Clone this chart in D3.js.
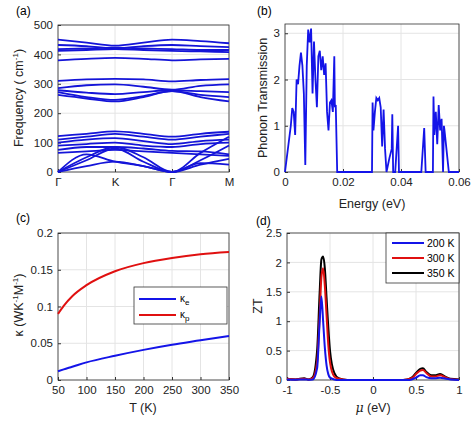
<!DOCTYPE html><html><head><meta charset="utf-8"><script src="https://d3js.org/d3.v7.min.js"></script>
<style>body{margin:0;background:#fff}text{font-family:"Liberation Sans",Arial,sans-serif;}</style></head><body>
<svg id="s" width="474" height="426"></svg>
<script>
// ---- data ----
const kPath = [0,0.5,1,1.5,2,2.5,3];
const kLabels = ["Γ","K","Γ","M"];
const bands = [
[450,440,430,440,450,445,438],[432,428,420,428,432,428,425],[418,420,423,420,418,415,415],[412,415,418,415,412,410,408],[380,385,388,385,380,383,385],
[310,315,317,315,308,313,316],[285,295,298,290,280,293,298],[278,270,265,272,278,275,272],[272,255,245,258,275,262,255],[262,250,240,255,275,255,240],
[122,130,138,130,120,130,137],[110,120,130,120,110,120,130],[100,110,115,105,95,105,110],[90,95,100,90,85,95,100],[75,85,85,80,72,70,60],[65,70,75,70,65,60,55],
[0,50,85,50,0,65,120],[0,40,80,35,0,40,90],[0,20,35,20,0,25,45],[0,60,35,20,0,30,25]];
const transE = [0,0.002,0.0025,0.003,0.0035,0.004,0.0045,0.005,0.0055,0.006,0.0065,0.007,0.0075,0.008,0.0085,0.009,0.0095,0.01,0.0105,0.011,0.0115,0.012,0.0125,0.013,0.0135,0.014,0.0145,0.015,0.0155,0.016,0.0165,0.017,0.0172,0.0175,0.018,0.03,0.0302,0.0305,0.031,0.0315,0.032,0.0325,0.033,0.0335,0.034,0.0345,0.035,0.036,0.0368,0.037,0.0373,0.038,0.039,0.0393,0.047,0.048,0.0485,0.051,0.0512,0.0515,0.052,0.0525,0.053,0.0535,0.054,0.0545,0.0548,0.055,0.0565,0.06];
const transT = [0,1.0,1.38,1.3,0.8,2.0,1.9,2.3,2.58,2.3,1.7,0.15,2.3,3.08,2.8,3.1,1.7,2.82,2.0,1.4,2.5,2.62,2.2,2.5,2.1,2.35,1.3,0.9,1.5,1.55,1.3,2.5,1.4,1.45,0,0,1.5,0.9,1.3,1.6,1.55,1.6,1.4,0.55,1.35,0.5,0,0.3,0.5,1.25,0,0,1.0,0,0,0.95,0,0,1.63,0.8,1.3,0.6,1.45,0.9,1.15,0,1.0,0.9,0,0];
const temps = [50,60,75,100,150,200,250,300,350];
const kappaE = [0.012,0.0145,0.018,0.024,0.033,0.041,0.048,0.054,0.060];
const kappaP = [0.090,0.101,0.114,0.129,0.148,0.159,0.166,0.171,0.174];
const mu = [-1,-0.9,-0.8,-0.75,-0.7,-0.65,-0.62,-0.6,-0.58,-0.56,-0.54,-0.52,-0.5,-0.45,-0.4,-0.3,0,0.3,0.4,0.45,0.5,0.55,0.58,0.62,0.68,0.72,0.78,0.85,0.9,1];
const zt200 = [0.01,0.005,0.01,0.005,0.01,0.2,1.0,1.42,1.0,0.55,0.25,0.1,0.04,0.01,0,0,0,0,0,0.01,0.04,0.08,0.08,0.05,0.03,0.03,0.04,0.02,0.01,0];
const zt300 = [0.02,0.01,0.02,0.01,0.03,0.3,1.1,1.75,1.9,1.6,1.1,0.6,0.3,0.06,0.02,0,0,0,0.01,0.03,0.1,0.16,0.17,0.12,0.06,0.06,0.08,0.04,0.015,0.005];
const zt350 = [0.02,0.01,0.03,0.01,0.05,0.5,1.5,2.05,2.1,1.9,1.4,0.9,0.5,0.12,0.03,0,0,0,0.01,0.04,0.12,0.19,0.2,0.14,0.08,0.08,0.1,0.05,0.02,0.01];

const svg = d3.select("#s");
const grid="#e4e4e4";
function panel(x0,x1,y0,y1,xd,yd,xt,yt,xfmt,yfmt){
  const x=d3.scaleLinear().domain(xd).range([x0,x1]);
  const y=d3.scaleLinear().domain(yd).range([y1,y0]);
  const g=svg.append("g");
  g.selectAll(".gx").data(xt).join("line").attr("x1",d=>x(d)).attr("x2",d=>x(d)).attr("y1",y0).attr("y2",y1).attr("stroke",grid);
  g.selectAll(".gy").data(yt).join("line").attr("y1",d=>y(d)).attr("y2",d=>y(d)).attr("x1",x0).attr("x2",x1).attr("stroke",grid);
  const ax=d3.axisBottom(x).tickValues(xt).tickSizeInner(-3).tickSizeOuter(0).tickPadding(6).tickFormat(xfmt);
  const ay=d3.axisLeft(y).tickValues(yt).tickSizeInner(-3).tickSizeOuter(0).tickPadding(5).tickFormat(yfmt);
  const gx=svg.append("g").attr("transform",`translate(0,${y1})`).call(ax);
  const gy=svg.append("g").attr("transform",`translate(${x0},0)`).call(ay);
  [gx,gy].forEach(a=>{a.select(".domain").remove();a.selectAll("text").attr("font-size",11.5).attr("fill","#222").attr("font-family","Liberation Sans, Arial");a.selectAll("line").attr("stroke","#333");});
  const top=svg.append("g");
  return {x,y,top,box:()=>top.append("rect").attr("x",x0).attr("y",y0).attr("width",x1-x0).attr("height",y1-y0).attr("fill","none").attr("stroke","#333").attr("stroke-width",0.8)};
}
function label(x,y,t,rot){const e=svg.append("text").attr("font-size",12.5).attr("fill","#222").attr("text-anchor","middle").text(t);
  if(rot)e.attr("transform",`translate(${x},${y}) rotate(-90)`);else e.attr("x",x).attr("y",y);return e;}

// (a)
const A=panel(58,229,25,172,[0,3],[0,500],[0,1,2,3],[0,100,200,300,400,500],(d,i)=>kLabels[i],d3.format("d"));
const la=d3.line().x((d,i)=>A.x(kPath[i])).y(d=>A.y(d)).curve(d3.curveMonotoneX);
svg.append("g").selectAll("path").data(bands).join("path").attr("d",la).attr("fill","none").attr("stroke","#1414d8").attr("stroke-width",1.8);
A.box();
label(23,98,"",true).html('Frequency ( cm<tspan dy="-5" font-size="8">-1</tspan><tspan dy="5">)</tspan>');
svg.append("text").attr("x",16).attr("y",15).attr("font-size",12).text("(a)");

// (b)
const B=panel(285,459,24,172,[0,0.06],[0,3.2],[0,0.02,0.04,0.06],[0,1,2,3],d=>d===0?"0":d3.format(".2f")(d),d3.format("d"));
svg.append("path").datum(transE).attr("d",d3.line().x(d=>B.x(d)).y((d,i)=>B.y(transT[i]))).attr("fill","none").attr("stroke","#1414e8").attr("stroke-width",1.8);
B.box();
label(372,208,"Energy (eV)");
label(267,98,"Phonon Transmission",true);
svg.append("text").attr("x",257).attr("y",15).attr("font-size",12).text("(b)");

// (c)
const C=panel(58,229,233,380,[50,350],[0,0.2],[50,100,150,200,250,300,350],[0,0.05,0.1,0.15,0.2],d3.format("d"),d=>d===0?"0":String(d));
const lc=v=>d3.line().x((d,i)=>C.x(temps[i])).y(d=>C.y(d)).curve(d3.curveMonotoneX)(v);
svg.append("path").attr("d",lc(kappaE)).attr("fill","none").attr("stroke","#1414e8").attr("stroke-width",2);
svg.append("path").attr("d",lc(kappaP)).attr("fill","none").attr("stroke","#e01010").attr("stroke-width",2);
C.box();
const lg=svg.append("g");
lg.append("rect").attr("x",134).attr("y",287).attr("width",93).attr("height",37).attr("fill","#fff").attr("stroke","#333").attr("stroke-width",0.8);
[["#1414e8","e",299],["#e01010","p",315]].forEach(([c,s,yy])=>{
  lg.append("line").attr("x1",139).attr("x2",176).attr("y1",yy).attr("y2",yy).attr("stroke",c).attr("stroke-width",2);
  lg.append("text").attr("x",180).attr("y",yy+3).attr("font-size",10).html(`κ<tspan dy="3" font-size="8">${s}</tspan>`);
});
label(143,412,"T (K)");
label(23,305,"",true).html('κ (WK<tspan dy="-5" font-size="8">-1</tspan><tspan dy="5">M</tspan><tspan dy="-5" font-size="8">-1</tspan><tspan dy="5">)</tspan>');
svg.append("text").attr("x",16).attr("y",222).attr("font-size",12).text("(c)");

// (d)
const D=panel(287,459,233,380,[-1,1],[0,2.5],[-1,-0.5,0,0.5,1],[0,0.5,1,1.5,2,2.5],d=>String(d),d=>String(d));
const ld=v=>d3.line().x((d,i)=>D.x(mu[i])).y(d=>D.y(d)).curve(d3.curveMonotoneX)(v);
[[zt350,"#000"],[zt300,"#e01010"],[zt200,"#1414e8"]].forEach(([v,c])=>svg.append("path").attr("d",ld(v)).attr("fill","none").attr("stroke",c).attr("stroke-width",2));
D.box();
const ld2=svg.append("g");
ld2.append("rect").attr("x",386).attr("y",233).attr("width",73).attr("height",50).attr("fill","#fff").attr("stroke","#333").attr("stroke-width",0.8);
[["#1414e8","200 K",243],["#e01010","300 K",258],["#000","350 K",273]].forEach(([c,t,yy])=>{
  ld2.append("line").attr("x1",392).attr("x2",424).attr("y1",yy).attr("y2",yy).attr("stroke",c).attr("stroke-width",2);
  ld2.append("text").attr("x",427).attr("y",yy+4).attr("font-size",10.5).text(t);
});
label(373,412,"").html('<tspan font-family="DejaVu Serif" font-style="italic">μ</tspan> (eV)');
label(262,306,"ZT",true);
svg.append("text").attr("x",256).attr("y",225).attr("font-size",12).text("(d)");
</script></body></html>
